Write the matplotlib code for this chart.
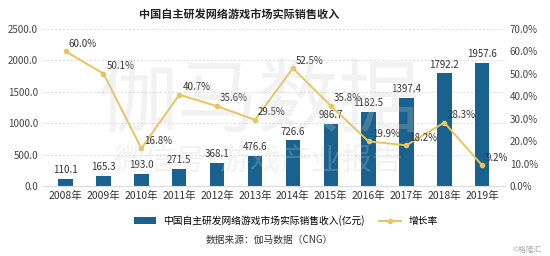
import numpy as np
import matplotlib
matplotlib.use('Agg')
from matplotlib import pyplot as plt

plt.rcParams['font.family'] = ['Noto Sans CJK SC', 'DejaVu Sans']

years = ['2008年', '2009年', '2010年', '2011年', '2012年', '2013年',
         '2014年', '2015年', '2016年', '2017年', '2018年', '2019年']
revenue = [110.1, 165.3, 193.0, 271.5, 368.1, 476.6,
           726.6, 986.7, 1182.5, 1397.4, 1792.2, 1957.6]
growth = [60.0, 50.1, 16.8, 40.7, 35.6, 29.5,
          52.5, 35.8, 19.9, 18.2, 28.3, 9.2]

bar_c = '#19628f'
line_c = '#e6c55e'

fig = plt.figure(figsize=(5.5, 2.56), dpi=100)
ax = fig.add_axes([0.078, 0.273, 0.84, 0.614])
x = np.arange(len(years))

ax.bar(x, revenue, width=0.38, color=bar_c, zorder=2,
       label='中国自主研发网络游戏市场实际销售收入(亿元)')
for xi, v in zip(x, revenue):
    ax.text(xi, v + 60, '%.1f' % v, ha='center', va='bottom', fontsize=7, color='#333333', zorder=5)
ax.set_ylim(0, 2500)
ax.set_yticks(np.arange(0, 2501, 500))
ax.set_yticklabels(['%.1f' % t for t in np.arange(0, 2501, 500)], fontsize=7, color='#444444')
ax.set_xlim(-0.6, len(years) - 0.4)
ax.set_xticks(x)
ax.set_xticklabels(years, fontsize=7.5, color='#333333')
ax.grid(axis='y', linestyle=(0, (2, 2)), color='#dddddd', linewidth=0.7, zorder=0)
for s in ['top', 'right', 'left']:
    ax.spines[s].set_visible(False)
ax.spines['bottom'].set_color('#dddddd')
ax.tick_params(length=0)

ax2 = ax.twinx()
ax2.plot(x, growth, color=line_c, marker='o', markersize=3, linewidth=1.4, zorder=3,
         label='增长率')
for xi, g in zip(x, growth):
    ax2.text(xi + 0.08, g + 1.2, '%.1f%%' % g, ha='left', va='bottom', fontsize=7, color='#333333')
ax2.set_ylim(0, 70)
ax2.set_yticks(np.arange(0, 71, 10))
ax2.set_yticklabels(['%.1f%%' % t for t in np.arange(0, 71, 10)], fontsize=7, color='#444444')
for s in ['top', 'right', 'left', 'bottom']:
    ax2.spines[s].set_visible(False)
ax2.tick_params(length=0)

fig.text(0.435, 0.945, '中国自主研发网络游戏市场实际销售收入', ha='center', va='center',
         fontsize=8, fontweight='bold', color='#222222')

h1, l1 = ax.get_legend_handles_labels()
h2, l2 = ax2.get_legend_handles_labels()
fig.legend(h1 + h2, l1 + l2, loc='center', bbox_to_anchor=(0.52, 0.137), ncol=2,
           frameon=False, fontsize=7, handlelength=2.2, columnspacing=1.5)
fig.text(0.49, 0.062, '数据来源：伽马数据（CNG）', ha='center', va='center', fontsize=7, color='#333333')

# 水印
fig.text(0.47, 0.60, '伽马数据', ha='center', va='center', fontsize=58, color='#cccccc', alpha=0.25, zorder=0)
fig.text(0.47, 0.37, '微信号  游戏产业报告', ha='center', va='center', fontsize=22, color='#cccccc', alpha=0.25, zorder=0)
fig.text(0.985, 0.025, '©格隆汇', ha='right', va='center', fontsize=5.5, color='#aaaaaa')

plt.savefig('out.png', dpi=100)
